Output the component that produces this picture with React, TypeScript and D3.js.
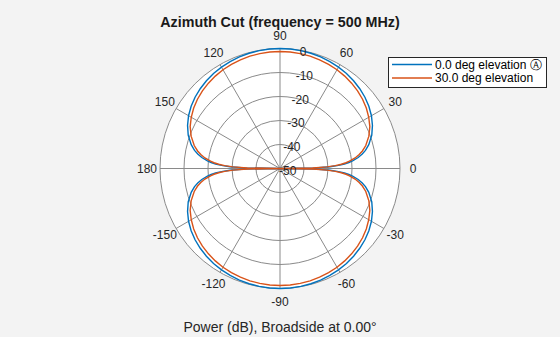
import React from "react";
import * as d3 from "d3";

// Azimuth angles (deg) of the sampled pattern
const azimuth: number[] = [
  0, 1, 2, 3, 4, 5, 6, 8, 10, 12, 15, 20, 25, 30, 35, 40, 45, 50, 55, 60, 65, 70, 75, 80, 85, 90,
  95, 100, 105, 110, 115, 120, 125, 130, 135, 140, 145, 150, 155, 160, 165, 168, 170, 172, 174, 175, 176, 177, 178, 179, 180,
  181, 182, 183, 184, 185, 186, 188, 190, 192, 195, 200, 205, 210, 215, 220, 225, 230, 235, 240, 245, 250, 255, 260, 265, 270,
  275, 280, 285, 290, 295, 300, 305, 310, 315, 320, 325, 330, 335, 340, 345, 348, 350, 352, 354, 355, 356, 357, 358, 359,
];

// Power (dB) at 0 deg elevation
const elev0: number[] = [
  -50, -35.2, -29.1, -25.6, -23.1, -21.2, -19.6, -17.1, -15.2, -13.6, -11.7, -9.3, -7.5, -6.0, -4.8, -3.8, -3.0, -2.3, -1.7, -1.25, -0.86, -0.54, -0.3, -0.13, -0.03, 0,
  -0.03, -0.13, -0.3, -0.54, -0.86, -1.25, -1.7, -2.3, -3.0, -3.8, -4.8, -6.0, -7.5, -9.3, -11.7, -13.6, -15.2, -17.1, -19.6, -21.2, -23.1, -25.6, -29.1, -35.2, -50,
  -35.2, -29.1, -25.6, -23.1, -21.2, -19.6, -17.1, -15.2, -13.6, -11.7, -9.3, -7.5, -6.0, -4.8, -3.8, -3.0, -2.3, -1.7, -1.25, -0.86, -0.54, -0.3, -0.13, -0.03, 0,
  -0.03, -0.13, -0.3, -0.54, -0.86, -1.25, -1.7, -2.3, -3.0, -3.8, -4.8, -6.0, -7.5, -9.3, -11.7, -13.6, -15.2, -17.1, -19.6, -21.2, -23.1, -25.6, -29.1, -35.2,
];

// Power (dB) at 30 deg elevation
const elev30: number[] = [
  -50, -36.4, -30.4, -26.9, -24.4, -22.4, -20.9, -18.4, -16.5, -14.9, -13.0, -10.6, -8.7, -7.3, -6.1, -5.1, -4.3, -3.6, -3.0, -2.5, -2.1, -1.8, -1.55, -1.4, -1.3, -1.25,
  -1.3, -1.4, -1.55, -1.8, -2.1, -2.5, -3.0, -3.6, -4.3, -5.1, -6.1, -7.3, -8.7, -10.6, -13.0, -14.9, -16.5, -18.4, -20.9, -22.4, -24.4, -26.9, -30.4, -36.4, -50,
  -36.4, -30.4, -26.9, -24.4, -22.4, -20.9, -18.4, -16.5, -14.9, -13.0, -10.6, -8.7, -7.3, -6.1, -5.1, -4.3, -3.6, -3.0, -2.5, -2.1, -1.8, -1.55, -1.4, -1.3, -1.25,
  -1.3, -1.4, -1.55, -1.8, -2.1, -2.5, -3.0, -3.6, -4.3, -5.1, -6.1, -7.3, -8.7, -10.6, -13.0, -14.9, -16.5, -18.4, -20.9, -22.4, -24.4, -26.9, -30.4, -36.4,
];

const seriesNames: string[] = ["0.0 deg elevation \u24B6", "30.0 deg elevation"];
const seriesColors: string[] = ["#0072BD", "#D95319"];
const rTicks: number[] = [-50, -40, -30, -20, -10, 0];
const thetaTicks: number[] = [0, 30, 60, 90, 120, 150, 180, 210, 240, 270, 300, 330];
const thetaLabels: string[] = ["0", "30", "60", "90", "120", "150", "180", "-150", "-120", "-90", "-60", "-30"];

const W = 560;
const H = 337;
const CX = 280;
const CY = 168.5;
const R = 120;
const FONT = "'Liberation Sans', Arial, Helvetica, sans-serif";
const GRID = "#8a8a8a";
const TXT = "#262626";

export default function App() {
  const r = d3.scaleLinear().domain([-50, 0]).range([0, R]).clamp(true);
  const toRad = (deg: number) => (deg * Math.PI) / 180;
  const line = d3
    .lineRadial<number>()
    .angle((_, i) => toRad(90 - azimuth[i]))
    .radius((d) => r(d))
    .curve(d3.curveLinearClosed);
  const series = [elev0, elev30];
  const px = (deg: number, rad: number) => CX + rad * Math.cos(toRad(deg));
  const py = (deg: number, rad: number) => CY - rad * Math.sin(toRad(deg));

  return (
    <div style={{ position: "fixed", left: 0, top: 0 }}>
      <svg width={W} height={H} style={{ display: "block", fontFamily: FONT }}>
        <rect width={W} height={H} fill="#f3f3f3" />
        <circle cx={CX} cy={CY} r={R} fill="#ffffff" />
        {rTicks.slice(1).map((t) => (
          <circle key={t} cx={CX} cy={CY} r={r(t)} fill="none" stroke={GRID} strokeWidth={1} />
        ))}
        {thetaTicks.map((a) => (
          <line key={a} x1={CX} y1={CY} x2={px(a, R)} y2={py(a, R)} stroke={GRID} strokeWidth={1} />
        ))}
        {series.map((s, k) => (
          <path
            key={k}
            d={line(s) || ""}
            transform={`translate(${CX},${CY})`}
            fill="none"
            stroke={seriesColors[k]}
            strokeWidth={1.4}
          />
        ))}
        {rTicks.map((t) => (
          <text
            key={t}
            x={px(80, r(t)) - 1}
            y={py(80, r(t)) + 3}
            fontSize={12}
            fill={TXT}
            dominantBaseline="middle"
            textAnchor="start"
          >
            {t}
          </text>
        ))}
        {thetaTicks.map((a, i) => (
          <text
            key={a}
            x={px(a, 133)}
            y={py(a, 133)}
            fontSize={12}
            fill={TXT}
            textAnchor="middle"
            dominantBaseline="central"
          >
            {thetaLabels[i]}
          </text>
        ))}
        <text x={280} y={22} textAnchor="middle" fontSize={14.3} fontWeight="bold" fill="#1a1a1a" dominantBaseline="central">
          Azimuth Cut (frequency = 500 MHz)
        </text>
        <text x={280} y={327} textAnchor="middle" fontSize={14} fill={TXT} dominantBaseline="central">
          Power (dB), Broadside at 0.00°
        </text>
        <g>
          <rect x={388.5} y={57.5} width={158} height={30} fill="#ffffff" stroke="#262626" strokeWidth={1} />
          {seriesNames.map((n, k) => (
            <g key={k}>
              <line x1={392} x2={432} y1={64.5 + k * 13.5} y2={64.5 + k * 13.5} stroke={seriesColors[k]} strokeWidth={1.4} />
              <text x={435} y={64.5 + k * 13.5} fontSize={12} fill="#000" dominantBaseline="central">
                {n}
              </text>
            </g>
          ))}
        </g>
      </svg>
    </div>
  );
}
